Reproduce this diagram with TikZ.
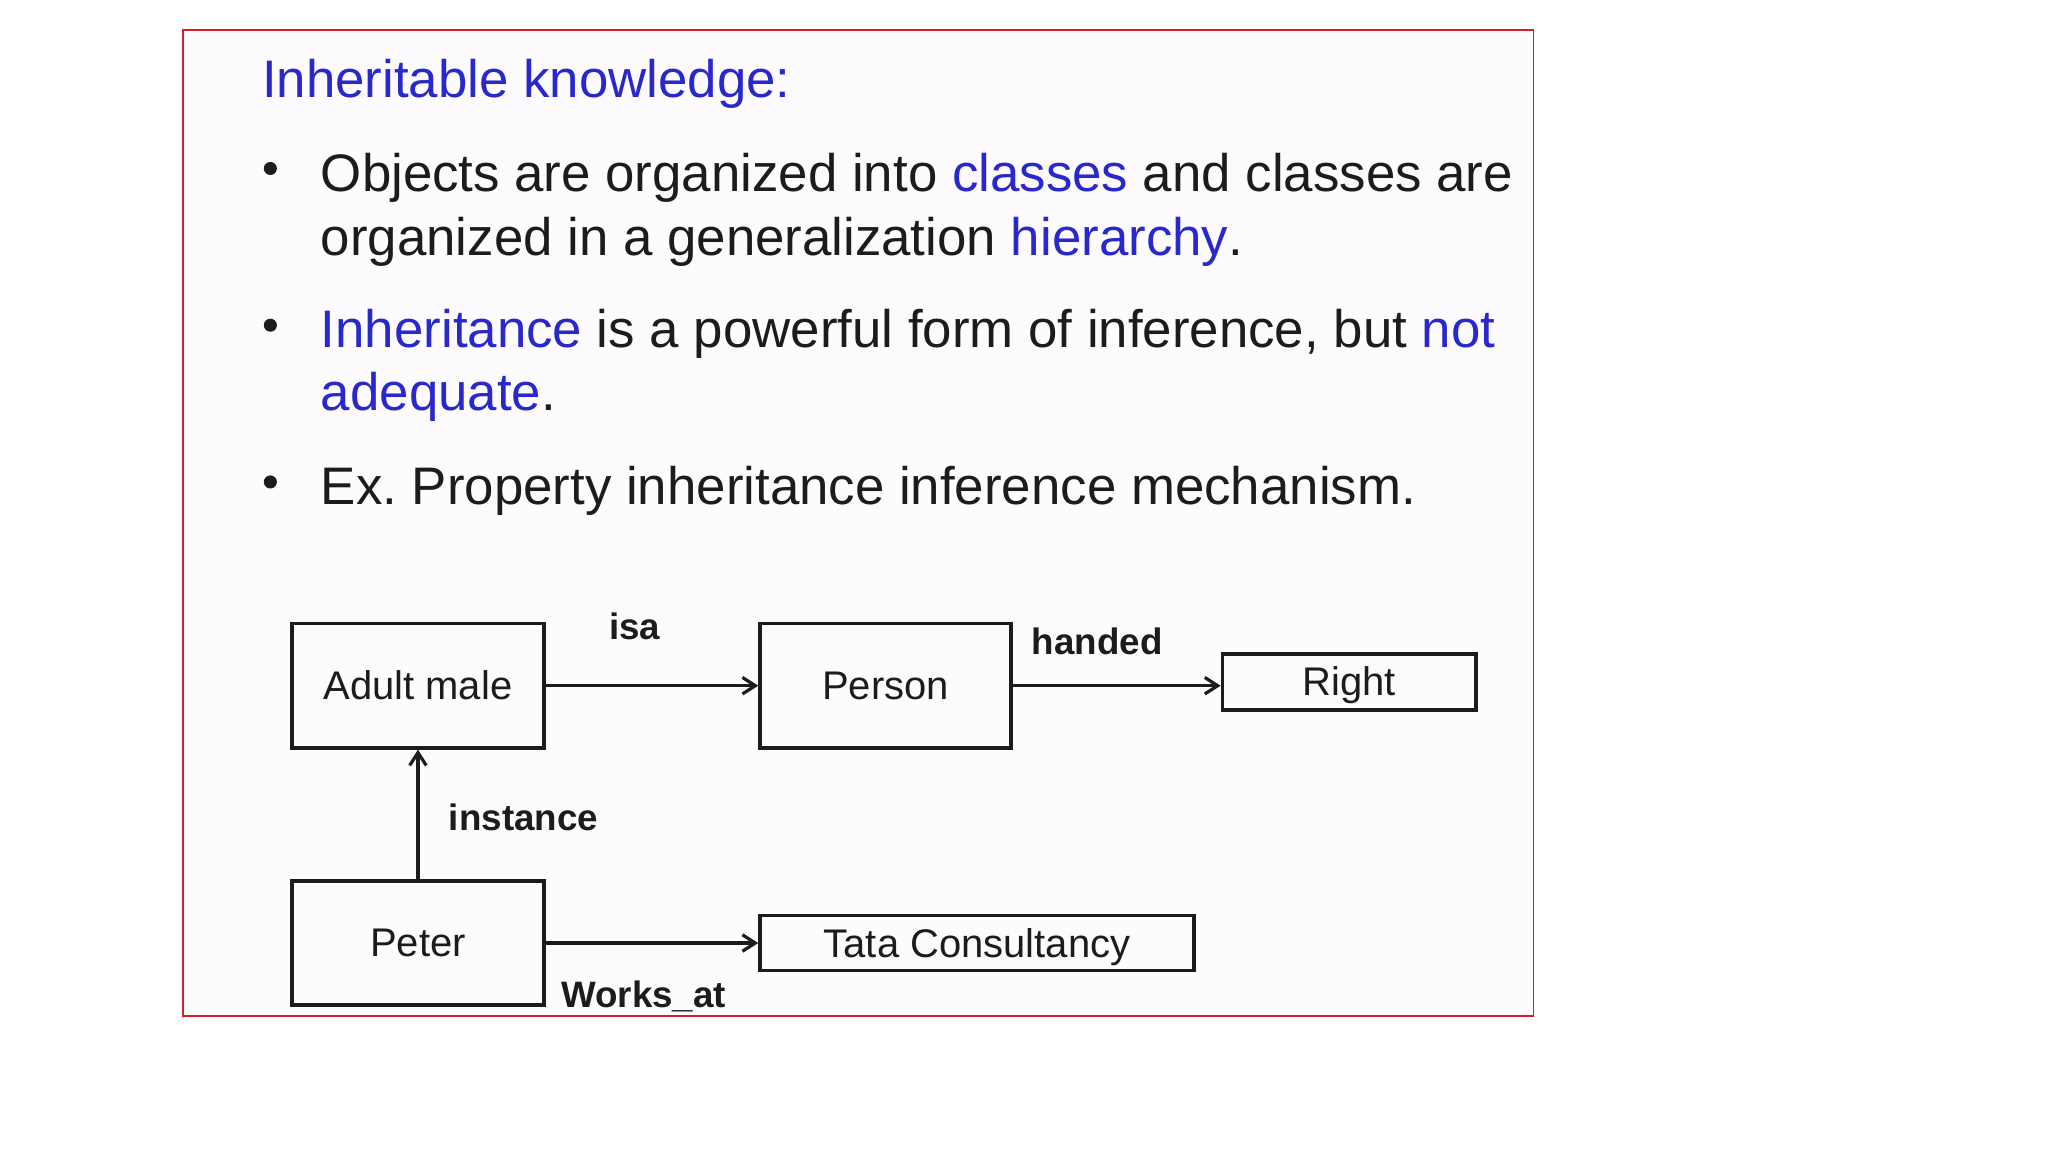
\documentclass[tikz,border=0pt]{standalone}
\usepackage{fontspec}
\setmainfont{Liberation Sans}
\usetikzlibrary{arrows.meta}
\definecolor{hblue}{RGB}{40,40,205}
\definecolor{ink}{RGB}{28,28,28}
\definecolor{frame}{RGB}{215,30,40}
\definecolor{paper}{RGB}{253,251,253}
\tikzset{
  line/.style={font=\fontsize{11.5}{13}\selectfont, text=ink, anchor=base west, inner sep=0pt},
  box/.style={draw=ink, line width=0.8pt, inner sep=0pt, font=\fontsize{8.7}{10}\selectfont, text=ink},
  slim/.style={text height=8pt, text depth=1.85pt},
  lbl/.style={font=\fontsize{8}{9}\selectfont\bfseries, text=ink, inner sep=0pt},
  arr/.style={draw=ink, line width=0.7pt, -{Straight Barb[length=2.8pt,width=3.6pt,line width=0.7pt]}},
  dot/.style={circle, fill=ink, inner sep=0pt, minimum size=0.1cm},
}
\frenchspacing
\begin{document}
\begin{tikzpicture}[x=0.01cm,y=-0.01cm]
\useasboundingbox (0,0) rectangle (1568,882);
\fill[white] (0,0) rectangle (1568,882);
\draw[frame, fill=paper, line width=0.35pt] (140,23) rectangle (1174,778);
% title
\node[line, text=hblue] (title) at (200,75) {Inheritable knowledge:};
% bullets
\node[dot] (b1) at (207,129) {};
\node[dot] (b2) at (207,249) {};
\node[dot] (b3) at (207,369) {};
\node[line] (l1) at (245,147) {Objects are organized into \textcolor{hblue}{classes} and classes are};
\node[line] (l2) at (245,196) {organized in a generalization \textcolor{hblue}{hierarchy}.};
\node[line] (l3) at (245,266) {\textcolor{hblue}{Inheritance} is a powerful form of inference, but \textcolor{hblue}{not}};
\node[line] (l4) at (245,314) {\textcolor{hblue}{adequate}.};
\node[line] (l5) at (245,386) {Ex. Property inheritance inference mechanism.};
% diagram
\node[box, minimum width=1.93cm, minimum height=0.95cm] (adult) at (320,525) {Adult male};
\node[box, minimum width=1.92cm, minimum height=0.95cm] (person) at (678,525) {Person};
\node[box, slim, minimum width=1.94cm, minimum height=0.43cm] (right) at (1033,522) {Right};
\node[box, minimum width=1.93cm, minimum height=0.95cm] (peter) at (320,722) {Peter};
\node[box, slim, minimum width=3.32cm, minimum height=0.42cm] (tata) at (748,722) {Tata Consultancy};
\draw[arr] (adult.east) -- (person.west);
\draw[arr] (person.east) -- (person.east -| right.west);
\draw[arr] (peter.north) -- (adult.south);
\draw[arr] (peter.east) -- (tata.west);
\node[lbl, anchor=base] (isa) at (486,490) {isa};
\node[lbl, anchor=base] (handed) at (840,501) {handed};
\node[lbl, anchor=base west] (instance) at (343,636) {instance};
\node[lbl, anchor=base west] (works) at (429,771) {Works\_at};
\end{tikzpicture}
\end{document}
